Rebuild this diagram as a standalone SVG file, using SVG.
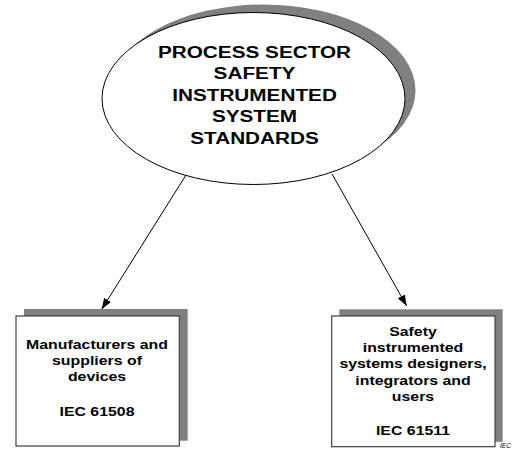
<svg xmlns="http://www.w3.org/2000/svg" width="524" height="463" viewBox="0 0 524 463">
<style>
.t{font-family:"Liberation Sans",Arial,sans-serif;font-weight:bold;fill:#000;text-anchor:middle}
.big{font-size:17px}
.sm{font-size:13px}
.shadow{fill:#808080;stroke:none}
.box{fill:#fff;stroke:#404040;stroke-width:1.2}
.conn{stroke:#000;stroke-width:1;fill:none}
</style>
<defs>
<marker id="arr" markerUnits="userSpaceOnUse" markerWidth="12" markerHeight="8" refX="11" refY="4" orient="auto">
<path d="M0,0 L11,4 L0,8 z" fill="#000"/>
</marker>
</defs>
<rect width="524" height="463" fill="#fff"/>
<g id="node-standards">
<ellipse class="shadow" cx="263.5" cy="90.5" rx="152" ry="86"/>
<ellipse cx="253.5" cy="98.5" rx="151.5" ry="86" fill="#fff" stroke="#000" stroke-width="1"/>
<text class="t big" transform="translate(254.5 57.5) scale(1.22 1)">PROCESS SECTOR</text>
<text class="t big" transform="translate(254.5 79) scale(1.22 1)">SAFETY</text>
<text class="t big" transform="translate(254.5 100.5) scale(1.22 1)">INSTRUMENTED</text>
<text class="t big" transform="translate(254.5 122) scale(1.22 1)">SYSTEM</text>
<text class="t big" transform="translate(254.5 143.5) scale(1.22 1)">STANDARDS</text>
</g>
<g id="connectors">
<line class="conn" x1="186" y1="175" x2="101.7" y2="309.3" marker-end="url(#arr)"/>
<line class="conn" x1="332" y1="174" x2="406.7" y2="306" marker-end="url(#arr)"/>
</g>
<g id="node-iec61508">
<rect class="shadow" x="24" y="309" width="163.7" height="131.7"/>
<rect class="box" x="16" y="316" width="163.3" height="130"/>
<text class="t sm" transform="translate(97 349.3) scale(1.22 1)">Manufacturers and</text>
<text class="t sm" transform="translate(97 365) scale(1.22 1)">suppliers of</text>
<text class="t sm" transform="translate(97 380.7) scale(1.22 1)">devices</text>
<text class="t sm" transform="translate(97 416) scale(1.22 1)">IEC 61508</text>
</g>
<g id="node-iec61511">
<rect class="shadow" x="339.3" y="309.3" width="163.4" height="132.5"/>
<rect class="box" x="331.7" y="316" width="163.3" height="130.7"/>
<text class="t sm" transform="translate(413 336) scale(1.22 1)">Safety</text>
<text class="t sm" transform="translate(413 352.3) scale(1.22 1)">instrumented</text>
<text class="t sm" transform="translate(413 368.3) scale(1.22 1)">systems designers,</text>
<text class="t sm" transform="translate(413 385) scale(1.22 1)">integrators and</text>
<text class="t sm" transform="translate(413 400.7) scale(1.22 1)">users</text>
<text class="t sm" transform="translate(413 435) scale(1.22 1)">IEC 61511</text>
</g>
<text x="500" y="448.3" font-family="Liberation Sans,Arial,sans-serif" font-size="6.5" font-style="italic" fill="#000">IEC</text>
</svg>
